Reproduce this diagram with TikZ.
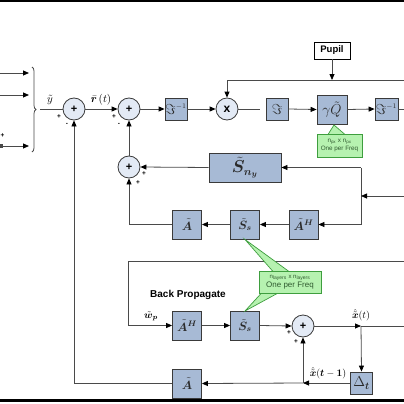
\documentclass[tikz,border=0pt]{standalone}
\usepackage{fontspec}
\usepackage{amsmath,bm}
\newfontfamily\arial{Liberation Sans}
\usetikzlibrary{arrows.meta,decorations.pathreplacing}
\definecolor{boxfill}{HTML}{A7BAD5}
\definecolor{boxline}{HTML}{3A3A3A}
\definecolor{circfill}{HTML}{E3EAF5}
\definecolor{linec}{HTML}{4A4A4A}
\definecolor{gfill}{HTML}{B6F2B0}
\definecolor{gline}{HTML}{3E9E3E}
\definecolor{gtext}{HTML}{2F5A2F}
\definecolor{mtext}{HTML}{2A2A2A}
\begin{document}
\begin{tikzpicture}[x=1pt,y=-1pt,
  blk/.style={draw=boxline,fill=boxfill,line width=0.8pt,minimum width=29pt,minimum height=29pt,inner sep=0pt,text=mtext},
  smblk/.style={blk,minimum width=22pt,minimum height=22pt},
  sumc/.style={circle,draw=boxline,fill=circfill,minimum size=22pt,inner sep=0pt,line width=0.8pt,font=\arial\bfseries\fontsize{11}{11}\selectfont},
  ln/.style={draw=linec,line width=0.8pt},
  arr/.style={ln,-{Triangle[length=6pt,width=5pt,color=black]}},
  sgn/.style={font=\arial\bfseries\fontsize{6.5}{6.5}\selectfont,inner sep=0pt},
  lbl/.style={inner sep=0pt,font=\fontsize{10}{10}\selectfont},
  callout/.style={draw=gline,fill=gfill,line width=0.7pt,inner sep=0pt,align=center,text=gtext}
]
\useasboundingbox (0,0) rectangle (404,404);
\fill[black] (0,0) rectangle (404,2.5);
\fill[black] (0,399.2) rectangle (404,401.5);

% nodes
\node[sumc] (sum1) at (74,109) {+};
\node[sumc] (sum2) at (129,109) {+};
\node[smblk,font=\fontsize{14}{14}\selectfont] (Fi1) at (176,109) {$\Im^{\scriptscriptstyle -1}$};
\node[sumc,font=\arial\bfseries\fontsize{12}{12}\selectfont] (mult) at (227,109) {x};
\node[smblk,font=\fontsize{14}{14}\selectfont] (F) at (277,109) {$\Im$};
\node[blk,minimum width=30pt,minimum height=29pt,font=\fontsize{14}{14}\selectfont] (Q) at (332,109.5) {$\gamma\tilde{Q}$};
\node[smblk,minimum width=23pt,font=\fontsize{14}{14}\selectfont] (Fi2) at (386.5,109) {$\Im^{\scriptscriptstyle -1}$};
\node[draw=black,fill=white,line width=0.7pt,minimum width=36pt,minimum height=17pt,inner sep=0pt,font=\arial\bfseries\fontsize{9.5}{9.5}\selectfont] (pupil) at (332,50.5) {Pupil};

\node[blk,minimum width=72pt,font=\fontsize{16}{16}\selectfont] (Sny) at (245,167.5) {$\tilde{\bm S}_{\bm{n_y}}$};
\node[sumc] (sum3) at (129,167) {+};

\node[blk,font=\fontsize{12}{12}\selectfont] (A2) at (187,224.5) {$\tilde{\bm A}$};
\node[blk,font=\fontsize{12}{12}\selectfont] (Ss2) at (245,224.5) {$\tilde{\bm S}_{\bm s}$};
\node[blk,font=\fontsize{12}{12}\selectfont] (AH2) at (303.5,224.5) {$\tilde{\bm A}^{\bm H}$};

\node[blk,font=\fontsize{12}{12}\selectfont] (AH3) at (187,325.5) {$\tilde{\bm A}^{\bm H}$};
\node[blk,font=\fontsize{12}{12}\selectfont] (Ss3) at (245,325.5) {$\tilde{\bm S}_{\bm s}$};
\node[sumc] (sum4) at (303,326) {+};
\node[smblk,font=\fontsize{14}{14}\selectfont] (Delta) at (361.5,383) {$\Delta_{\bm t}$};
\node[blk,font=\fontsize{12}{12}\selectfont] (A4) at (187,383.5) {$\tilde{\bm A}$};

% coordinates
\coordinate (in1s) at (0,73); \coordinate (in1e) at (29,73);
\coordinate (in2s) at (0,95); \coordinate (in2e) at (29,95);
\coordinate (in3s) at (3,146); \coordinate (in3e) at (29,146);
\coordinate (bt) at (32,67); \coordinate (bb) at (32,152);
\coordinate (ys) at (40,109);
\coordinate (mend) at (260,109);
\coordinate (oend) at (404,109);
\coordinate (fbR) at (404,80); \coordinate (fbL) at (227,80); \coordinate (fbJ) at (332,80);
\coordinate (j1) at (361,167.5); \coordinate (j1m) at (361,196); \coordinate (rin) at (404,196);
\coordinate (j1b) at (361,224.5);
\coordinate (lp1) at (404,261); \coordinate (lp2) at (128,261); \coordinate (lp3) at (128,325.5);
\coordinate (j2) at (361,326); \coordinate (xend) at (404,326);
\coordinate (j3) at (303,383);

% inputs and brace
\draw[arr] (in1s) -- (in1e);
\draw[arr] (in2s) -- (in2e);
\draw[arr] (in3s) -- (in3e);
\fill[linec] (0,144) rectangle (3,148);
\node[sgn] (lp) at (2.5,136) {+};
\draw[ln,decorate,decoration={brace,amplitude=4pt}] (bt) -- (bb);

% main row
\draw[ln] (ys) -- (sum1.west);
\draw[arr] (sum1.east) -- (sum2.west);
\draw[arr] (sum2.east) -- (Fi1.west);
\draw[arr] (Fi1.east) -- (mult.west);
\draw[ln] (mult.east) -- (mend);
\draw[arr] (F.east) -- (Q.west);
\draw[arr] (Q.east) -- (Fi2.west);
\draw[ln] (Fi2.east) -- (oend);
\draw[ln] (fbR) -- (fbL);
\draw[arr] (fbL) -- (mult.north);
\draw[arr] (pupil.south) -- (fbJ);

% row 1
\draw[ln] (j1b) -- (j1);
\draw[arr] (j1) -- (Sny.east);
\draw[arr] (rin) -- (j1m);
\draw[arr] (Sny.west) -- (sum3.east);
\draw[arr] (sum3.north) -- (sum2.south);

% row 2
\draw[arr] (j1b) -- (AH2.east);
\draw[arr] (AH2.west) -- (Ss2.east);
\draw[arr] (Ss2.west) -- (A2.east);
\draw[arr] (A2.west) -| (sum3.south);

% row 3
\draw[arr] (lp1) -- (lp2) -- (lp3) -- (AH3.west);
\draw[arr] (AH3.east) -- (Ss3.west);
\draw[arr] (Ss3.east) -- (sum4.west);
\draw[arr] (sum4.east) -- (j2);
\draw[ln] (j2) -- (xend);
\draw[arr] (j2) -- (Delta.north);
\draw[arr] (Delta.west) -- (j3);
\draw[arr] (j3) -- (sum4.south);
\draw[arr] (j3) -- (A4.east);
\draw[arr] (A4.west) -| (sum1.south);

% labels
\node[lbl,font=\fontsize{11}{11}\selectfont] (ylab) at (50,100) {$\tilde{y}$};
\node[lbl,font=\fontsize{11}{11}\selectfont] (rlab) at (101,99.5) {$\bar{\bm r}\left(t\right)$};
\node[lbl] (wlab) at (151,316.5) {$\tilde{\bm w}_{\bm p}$};
\node[lbl] (xlab) at (361,315.5) {$\hat{\tilde{\bm x}}(t)$};
\node[lbl] (x1lab) at (328,373.5) {$\hat{\tilde{\bm x}}(\bm t-\bm 1)$};
\node[inner sep=0pt,font=\arial\bfseries\fontsize{10}{10}\selectfont] (bp) at (188,295) {Back Propagate};

% signs
\node[sgn] (s1a) at (59,117) {+}; \node[sgn] (s1b) at (67,124) {-};
\node[sgn] (s2a) at (114,117) {+}; \node[sgn] (s2b) at (119,124) {-};
\node[sgn] (s3a) at (144,174) {+}; \node[sgn] (s3b) at (138,183) {+};
\node[sgn] (s4a) at (289,333) {+}; \node[sgn] (s4b) at (296,342) {+};

% callout 1
\draw[gline,fill=gfill,line width=0.7pt] (328,134.5) -- (334,125) -- (345,134.5);
\node[callout,minimum width=45pt,minimum height=23pt,font=\arial\fontsize{6.3}{7.5}\selectfont] (c1) at (339.5,145.5) {n\textsubscript{px} x n\textsubscript{px}\\One per Freq};

% callout 2
\draw[gline,fill=gfill,line width=0.7pt] (273,271.5) -- (245,239.5) -- (289,271.5);
\draw[gline,fill=gfill,line width=0.7pt] (262,292.5) -- (245,311) -- (279,292.5);
\node[callout,minimum width=62pt,minimum height=22pt,font=\arial\fontsize{8}{9}\selectfont] (c2) at (290,282) {{\fontsize{6}{6}\selectfont n\textsubscript{layers} x n\textsubscript{layers}}\\One per Freq};
\end{tikzpicture}
\end{document}
